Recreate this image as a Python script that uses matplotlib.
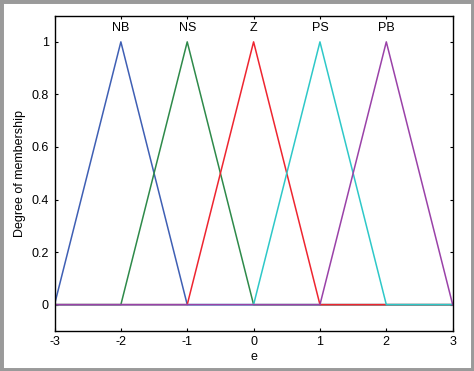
import numpy as np
import matplotlib.pyplot as plt
from matplotlib.patches import Rectangle

plt.rcParams['font.family'] = ['Liberation Sans', 'DejaVu Sans']
plt.rcParams['axes.unicode_minus'] = False

# membership function names, triangle params (a, b, c) and colours
names = ['NB', 'NS', 'Z', 'PS', 'PB']
left = [-3, -2, -1, 0, 1]
peak = [-2, -1, 0, 1, 2]
right = [-1, 0, 1, 2, 3]
colors = ['#3f5fb4', '#2e8a4a', '#ee2530', '#2ec8c8', '#9a42a8']

xticks = [-3, -2, -1, 0, 1, 2, 3]
yticks = [0, 0.2, 0.4, 0.6, 0.8, 1]

x = np.linspace(-3, 3, 601)

fig = plt.figure(figsize=(4.74, 3.71), dpi=100)
ax = fig.add_axes([0.115, 0.108, 0.84, 0.85])

for nm, a, b, c, col in zip(names, left, peak, right, colors):
    y = np.maximum(np.minimum((x - a) / (b - a), (c - x) / (c - b)), 0)
    ax.plot(x, y, color=col, lw=1.1)
    ax.text(b, 1.03, nm, ha='center', va='bottom', fontsize=9)

ax.set_xlim(-3, 3)
ax.set_ylim(-0.1, 1.1)
ax.set_xticks(xticks)
ax.set_yticks(yticks)
ax.set_yticklabels(['0', '0.2', '0.4', '0.6', '0.8', '1'])
ax.tick_params(direction='in', top=True, right=True, labelsize=9, length=2.5, width=0.8, pad=4)
for s in ax.spines.values():
    s.set_linewidth(1.0)
ax.set_xlabel('e', fontsize=9, labelpad=2)
ax.set_ylabel('Degree of membership', fontsize=9, labelpad=4)

# grey frame round the figure
fig.patches.append(Rectangle((0, 0), 1, 1, transform=fig.transFigure, fill=False,
                             edgecolor='#9a9a9a', lw=5))

fig.savefig('out.png', dpi=100)
